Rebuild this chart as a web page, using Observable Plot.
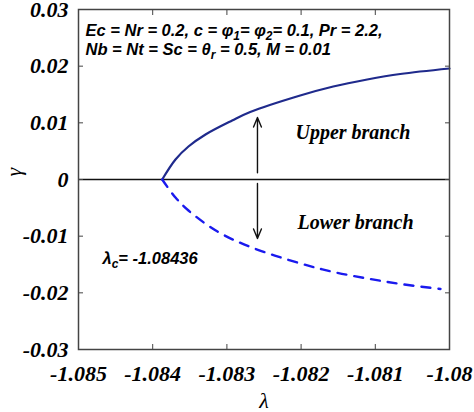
<!DOCTYPE html>
<html>
<head>
<meta charset="utf-8">
<script src="https://cdn.jsdelivr.net/npm/d3@7"></script>
<script src="https://cdn.jsdelivr.net/npm/@observablehq/plot@0.6"></script>
<style>
  html, body { margin: 0; padding: 0; background: #fff; }
</style>
</head>
<body>
<div id="chart"></div>
<script>
// ---- data ----
const upperLambda = [-1.083872, -1.083693, -1.083518, -1.083288, -1.082929, -1.082686, -1.082012, -1.081567, -1.081109, -1.080664, -1.08];
const upperGamma  = [0, 0.00353, 0.00582, 0.00794, 0.01041, 0.01191, 0.01482, 0.01641, 0.01765, 0.01862, 0.01959];
const lowerLambda = [-1.083872, -1.083693, -1.083518, -1.083127, -1.082682, -1.082008, -1.081563, -1.081105, -1.080660, -1.080121];
const lowerGamma  = [0, -0.00318, -0.00547, -0.00918, -0.01191, -0.01482, -0.01632, -0.01747, -0.01844, -0.01932];

const xTicks = [-1.085, -1.084, -1.083, -1.082, -1.081, -1.08];
const xTickLabels = ["-1.085", "-1.084", "-1.083", "-1.082", "-1.081", "-1.08"];
const yTicks = [0.03, 0.02, 0.01, 0, -0.01, -0.02, -0.03];
const yTickLabels = ["0.03", "0.02", "0.01", "0", "-0.01", "-0.02", "-0.03"];

const paramText = [
  {lambda: -1.084906, gamma: 0.02617, text: "Ec = Nr = 0.2, c = φ_1= φ_2= 0.1, Pr = 2.2,"},
  {lambda: -1.084906, gamma: 0.02282, text: "Nb = Nt = Sc = θ_r = 0.5, M = 0.01"},
  {lambda: -1.084677, gamma: -0.01406, text: "λ_c= -1.08436"}
];
const branchText = [
  {lambda: -1.082076, gamma: 0.00836, text: "Upper branch"},
  {lambda: -1.082049, gamma: -0.00769, text: "Lower branch"}
];
const arrowsData = [
  {x1: -1.082588, y1: 0.0012, x2: -1.082588, y2: 0.01094},
  {x1: -1.082588, y1: -0.0007, x2: -1.082588, y2: -0.01041}
];

const upper = upperLambda.map((l, i) => ({lambda: l, gamma: upperGamma[i]}));
const lower = lowerLambda.map((l, i) => ({lambda: l, gamma: lowerGamma[i]}));

const tickFont = {fontFamily: "Liberation Serif", fontWeight: "bold", fontStyle: "italic", fontSize: 22, fill: "#000"};
const frameColor = "#444";

const plot = Plot.plot({
  width: 474,
  height: 412,
  marginTop: 9,
  marginRight: 25,
  marginBottom: 63,
  marginLeft: 78,
  x: {domain: [-1.085, -1.08]},
  y: {domain: [-0.03, 0.03]},
  style: {background: "#fff", color: "#000", fontFamily: "Liberation Serif"},
  marks: [
    Plot.ruleY([0], {stroke: "#111", strokeWidth: 1.5}),
    Plot.line(upper, {x: "lambda", y: "gamma", curve: "catmull-rom", stroke: "#1f2a8c", strokeWidth: 2.2}),
    Plot.line(lower, {x: "lambda", y: "gamma", curve: "catmull-rom", stroke: "#1a1aee", strokeWidth: 2.4, strokeDasharray: "9,8"}),
    Plot.arrow(arrowsData, {x1: "x1", y1: "y1", x2: "x2", y2: "y2", stroke: "#111", strokeWidth: 1.4, headLength: 11, headAngle: 45}),
    Plot.axisX(xTicks, {anchor: "bottom", tickSize: -5, text: null, stroke: frameColor, label: null}),
    Plot.axisX(xTicks, {anchor: "top", tickSize: -5, text: null, stroke: frameColor, label: null}),
    Plot.axisY(yTicks, {anchor: "left", tickSize: -5, text: null, stroke: frameColor, label: null}),
    Plot.axisY(yTicks, {anchor: "right", tickSize: -5, text: null, stroke: frameColor, label: null}),
    Plot.frame({stroke: frameColor, strokeWidth: 1.5}),
    Plot.text(xTicks, {x: d => d, frameAnchor: "bottom", dy: 24, lineAnchor: "middle", textAnchor: "middle",
      text: (d, i) => xTickLabels[i], ...tickFont}),
    Plot.text(yTicks, {y: d => d, frameAnchor: "left", dx: -10, lineAnchor: "middle", textAnchor: "end",
      text: (d, i) => yTickLabels[i], ...tickFont}),
    Plot.text(paramText, {x: "lambda", y: "gamma", text: "text", textAnchor: "start", lineAnchor: "middle",
      fontFamily: "Liberation Sans", fontWeight: "bold", fontStyle: "italic", fontSize: 16.5, fill: "#000"}),
    Plot.text(branchText, {x: "lambda", y: "gamma", text: "text", textAnchor: "start", lineAnchor: "middle",
      fontFamily: "Liberation Serif", fontWeight: "bold", fontStyle: "italic", fontSize: 20, fill: "#000"}),
    Plot.text(["λ"], {frameAnchor: "bottom", dy: 51, lineAnchor: "middle", fontFamily: "Liberation Serif", fontStyle: "italic", fontSize: 22, fill: "#000"}),
    Plot.text(["γ"], {frameAnchor: "left", dx: -65, dy: -3, rotate: -90, lineAnchor: "middle", fontFamily: "Liberation Serif", fontStyle: "italic", fontSize: 22, fill: "#000"})
  ]
});

// subscripts: "_x" -> subscript tspan
plot.querySelectorAll("text").forEach(t => {
  const s = t.textContent;
  if (!s.includes("_") || t.querySelector("tspan")) return;
  const parts = s.split(/_(.)/);
  t.textContent = "";
  parts.forEach((p, i) => {
    if (p === "") return;
    const ts = document.createElementNS("http://www.w3.org/2000/svg", "tspan");
    ts.textContent = p;
    if (i % 2 === 1) {
      ts.setAttribute("dy", "3.5");
      ts.setAttribute("font-size", "12");
    } else if (i > 0) {
      ts.setAttribute("dy", "-3.5");
    }
    t.appendChild(ts);
  });
});

document.getElementById("chart").appendChild(plot);
</script>
</body>
</html>
